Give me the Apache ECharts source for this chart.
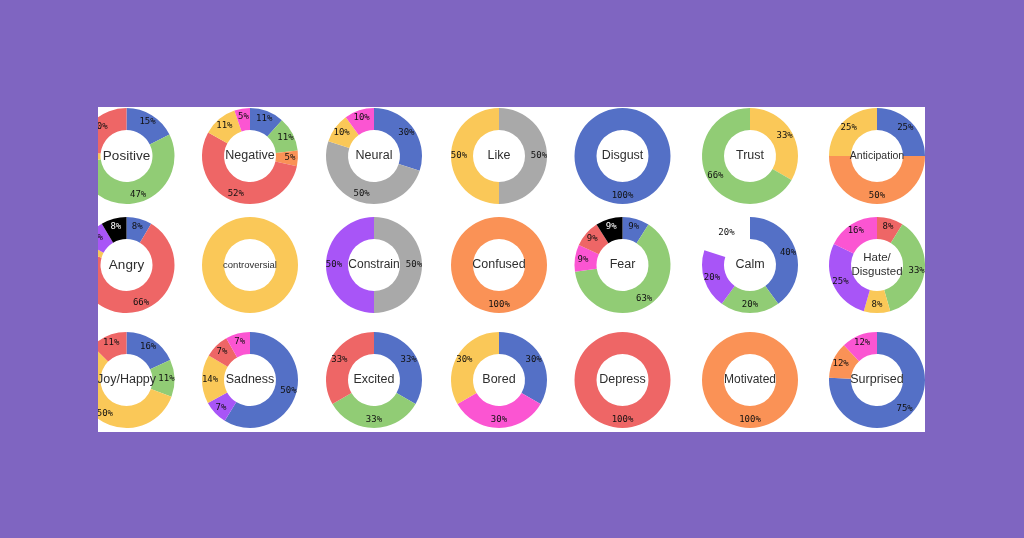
<!DOCTYPE html>
<html>
<head>
<meta charset="utf-8">
<title>Emotion donuts</title>
<script src="https://cdn.jsdelivr.net/npm/echarts@6/dist/echarts.min.js"></script>
<style>
  html, body { margin: 0; padding: 0; width: 1024px; height: 538px; background: #7f65c1; overflow: hidden; }
  #chart { position: absolute; left: 98px; top: 107px; width: 827px; height: 325px; background: #ffffff; }
</style>
</head>
<body>
<div id="chart"></div>
<script>
// Emotion names, one donut each (row by row, left to right)
const names = [
  'Positive', 'Negative', 'Neural', 'Like', 'Disgust', 'Trust', 'Anticipation',
  'Angry', 'controversial', 'Constrain', 'Confused', 'Fear', 'Calm', 'Hate/\nDisgusted',
  'Joy/Happy', 'Sadness', 'Excited', 'Bored', 'Depress', 'Motivated', 'Surprised'
];

// Slice values (percent), clockwise from 12 o'clock
const sliceValues = [
  [15, 47, 3, 20],
  [11, 11, 5, 52, 11, 5],
  [30, 50, 10, 10],
  [50, 50],
  [100],
  [33, 66],
  [25, 50, 25],
  [8, 66, 3, 8, 8],
  [100],
  [50, 50],
  [100],
  [9, 63, 9, 9, 9],
  [40, 20, 20, 20],
  [8, 33, 8, 25, 16],
  [16, 11, 50, 11],
  [50, 7, 14, 7, 7],
  [33, 33, 33],
  [30, 30, 30],
  [100],
  [100],
  [75, 12, 12]
];

// Colour key of each slice
const sliceColors = [
  ['blue', 'green', 'yellow', 'red'],
  ['blue', 'green', 'orange', 'red', 'yellow', 'pink'],
  ['blue', 'gray', 'yellow', 'pink'],
  ['gray', 'yellow'],
  ['blue'],
  ['yellow', 'green'],
  ['blue', 'orange', 'yellow'],
  ['blue', 'red', 'yellow', 'purple', 'black'],
  ['yellow'],
  ['gray', 'purple'],
  ['orange'],
  ['blue', 'green', 'pink', 'red', 'black'],
  ['blue', 'green', 'purple', 'none'],
  ['red', 'green', 'yellow', 'purple', 'pink'],
  ['blue', 'green', 'yellow', 'red'],
  ['blue', 'purple', 'yellow', 'red', 'pink'],
  ['blue', 'green', 'red'],
  ['blue', 'pink', 'yellow'],
  ['red'],
  ['orange'],
  ['blue', 'orange', 'pink']
];

// Donuts whose slice labels are not drawn
const unlabelled = ['controversial'];

const palette = {
  blue: '#5470c6', green: '#91cc75', yellow: '#fac858', red: '#ee6666',
  orange: '#fa9256', purple: '#a855f7', pink: '#fb55d2', gray: '#a9a9a9',
  black: '#000000', none: 'rgba(0,0,0,0)'
};

// Layout of the 7 x 3 grid (pixels inside the white panel)
const colX = [28.5, 152, 276, 401, 524.5, 652, 779];
const rowY = [49, 158, 273];
const outerR = 48, innerR = 26;
const centerFont = [13.5, 12.5, 12.5, 12.5, 12.5, 12.5, 10.5, 13.5, 9.5, 12, 12.5, 12.5, 12.5, 11.5, 12.5, 12.5, 12.5, 12.5, 12.5, 12, 12.5];

const chart = echarts.init(document.getElementById('chart'), null, { renderer: 'canvas' });

const series = [];
const graphics = [];
names.forEach((name, i) => {
  const cx = colX[i % 7];
  const cy = rowY[Math.floor(i / 7)];
  const showLabels = unlabelled.indexOf(name) < 0;
  series.push({
    type: 'pie',
    name: name,
    center: [cx, cy],
    radius: [innerR, outerR],
    startAngle: 90,
    clockwise: true,
    silent: true,
    animation: false,
    avoidLabelOverlap: false,
    emphasis: { disabled: true },
    label: {
      show: showLabels,
      position: 'inside',
      formatter: '{c}%',
      fontFamily: 'DejaVu Sans Mono',
      fontSize: 9,
      color: '#111111'
    },
    labelLine: { show: false },
    data: sliceValues[i].map((v, k) => {
      const key = sliceColors[i][k];
      return {
        value: v,
        name: name + '-' + k,
        itemStyle: { color: palette[key] },
        label: key === 'black' ? { color: '#ffffff' } : {}
      };
    })
  });
  graphics.push({
    type: 'text',
    x: cx,
    y: cy,
    silent: true,
    z: 100,
    style: {
      text: name,
      align: 'center',
      verticalAlign: 'middle',
      fontFamily: 'Liberation Sans',
      fontSize: centerFont[i],
      lineHeight: centerFont[i] + 2,
      fill: '#2e2e2e'
    }
  });
});

chart.setOption({
  backgroundColor: '#ffffff',
  animation: false,
  series: series,
  graphic: graphics
});
</script>
</body>
</html>
